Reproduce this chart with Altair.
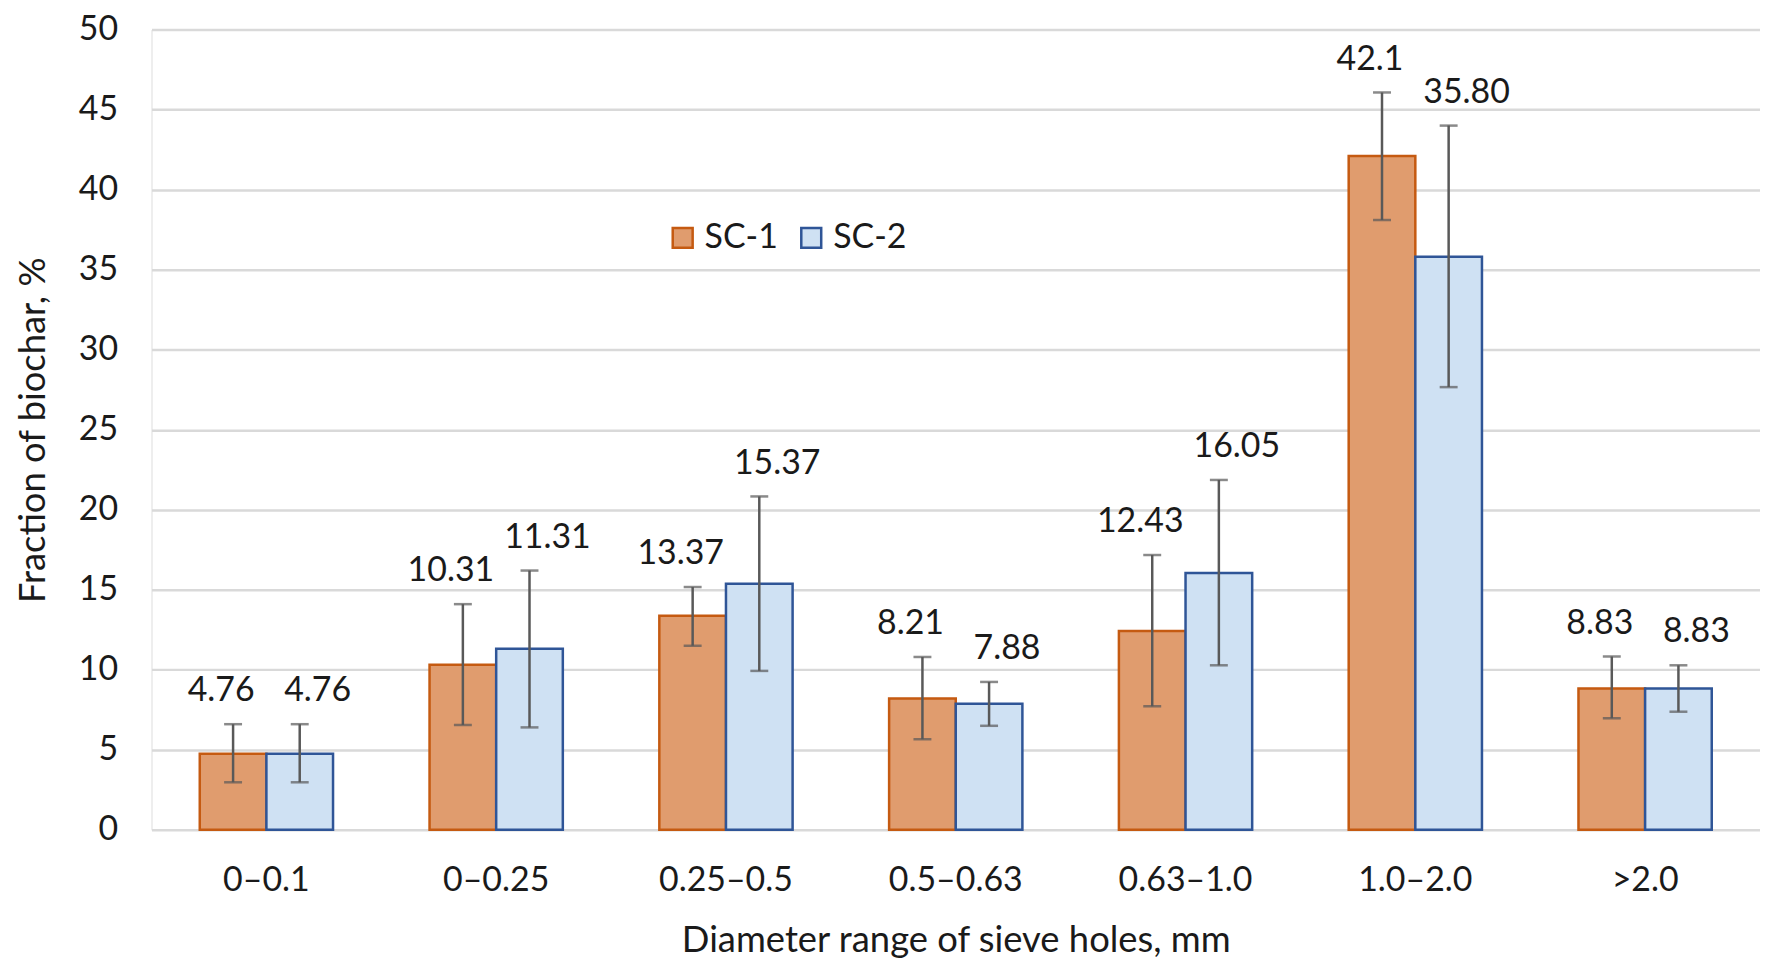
import altair as alt
import pandas as pd

categories = ["0–0.1", "0–0.25", "0.25–0.5", "0.5–0.63", "0.63–1.0", "1.0–2.0", ">2.0"]
series = ["SC-1", "SC-2"]
sc1_values = [4.76, 10.31, 13.37, 8.21, 12.43, 42.1, 8.83]
sc2_values = [4.76, 11.31, 15.37, 7.88, 16.05, 35.80, 8.83]
sc1_labels = ["4.76", "10.31", "13.37", "8.21", "12.43", "42.1", "8.83"]
sc2_labels = ["4.76", "11.31", "15.37", "7.88", "16.05", "35.80", "8.83"]
sc1_err_low = [2.97, 6.55, 11.5, 5.66, 7.72, 38.1, 6.97]
sc1_err_high = [6.6, 14.1, 15.17, 10.8, 17.17, 46.07, 10.83]
sc2_err_low = [2.97, 6.4, 9.93, 6.5, 10.28, 27.66, 7.38]
sc2_err_high = [6.6, 16.2, 20.83, 9.24, 21.86, 44.0, 10.28]

rows = []
for i, c in enumerate(categories):
    rows.append({"cat": c, "series": "SC-1", "value": sc1_values[i], "label": sc1_labels[i],
                 "lo": sc1_err_low[i], "hi": sc1_err_high[i]})
    rows.append({"cat": c, "series": "SC-2", "value": sc2_values[i], "label": sc2_labels[i],
                 "lo": sc2_err_low[i], "hi": sc2_err_high[i]})
df = pd.DataFrame(rows)

FONT = "Lato"
TXT = "#1a1a1a"

x = alt.X("cat:N", sort=categories,
          scale=alt.Scale(paddingInner=0.42, paddingOuter=0.21),
          axis=alt.Axis(title="Diameter range of sieve holes, mm", labelAngle=0, ticks=False,
                        domain=False, grid=False, labelPadding=34, titlePadding=25,
                        labelFont=FONT, labelFontSize=34, labelColor=TXT,
                        titleFont=FONT, titleFontSize=36.5, titleFontWeight="normal", titleColor=TXT))
xo = alt.XOffset("series:N", sort=series, scale=alt.Scale(paddingInner=0, paddingOuter=0))
yscale = alt.Scale(domain=[0, 50], nice=False)

legend = alt.Legend(title=None, orient="none", legendX=516, legendY=192, direction="horizontal",
                    symbolType="square", symbolSize=400, symbolStrokeWidth=2.5,
                    labelFont=FONT, labelFontSize=34, labelColor=TXT,
                    columnPadding=16, labelOffset=5)

bars = alt.Chart(df).mark_bar(strokeWidth=2.5).encode(
    x=x, xOffset=xo,
    y=alt.Y("value:Q", scale=yscale,
            axis=alt.Axis(title="Fraction of biochar, %", values=list(range(0, 51, 5)),
                          ticks=False, domain=False, labelPadding=34, titlePadding=26,
                          gridColor="#D9D9D9", gridWidth=2.5,
                          labelFont=FONT, labelFontSize=34, labelColor=TXT,
                          titleFont=FONT, titleFontSize=36.5, titleFontWeight="normal", titleColor=TXT)),
    color=alt.Color("series:N", scale=alt.Scale(domain=series, range=["#E09C6E", "#CFE1F3"]), legend=legend),
    stroke=alt.Stroke("series:N", scale=alt.Scale(domain=series, range=["#C55A11", "#2F5597"]), legend=legend),
)

err = alt.Chart(df).mark_rule(color="#595959", strokeWidth=2.5).encode(
    x=x, xOffset=xo, y=alt.Y("lo:Q", scale=yscale), y2="hi:Q")
cap_lo = alt.Chart(df).mark_tick(color="#595959", thickness=2.5, size=18).encode(
    x=x, xOffset=xo, y=alt.Y("lo:Q", scale=yscale))
cap_hi = alt.Chart(df).mark_tick(color="#595959", thickness=2.5, size=18).encode(
    x=x, xOffset=xo, y=alt.Y("hi:Q", scale=yscale))

txt1 = alt.Chart(df).transform_filter(alt.datum.series == "SC-1").mark_text(
    font=FONT, fontSize=34, color=TXT, baseline="middle", dy=-33, dx=-12).encode(
    x=x, xOffset=xo, y=alt.Y("hi:Q", scale=yscale), text="label:N")
txt2 = alt.Chart(df).transform_filter(alt.datum.series == "SC-2").mark_text(
    font=FONT, fontSize=34, color=TXT, baseline="middle", dy=-33, dx=18).encode(
    x=x, xOffset=xo, y=alt.Y("hi:Q", scale=yscale), text="label:N")

chart = alt.layer(bars, err, cap_lo, cap_hi, txt1, txt2).properties(
    width=1614, height=803,
    autosize=alt.AutoSizeParams(type="none"),
    padding={"left": 144, "top": 20, "right": 0, "bottom": 136},
).configure_view(stroke="black", strokeWidth=2).configure(background="white")

chart.save("out.html", embed_options={"renderer": "svg", "actions": False})
